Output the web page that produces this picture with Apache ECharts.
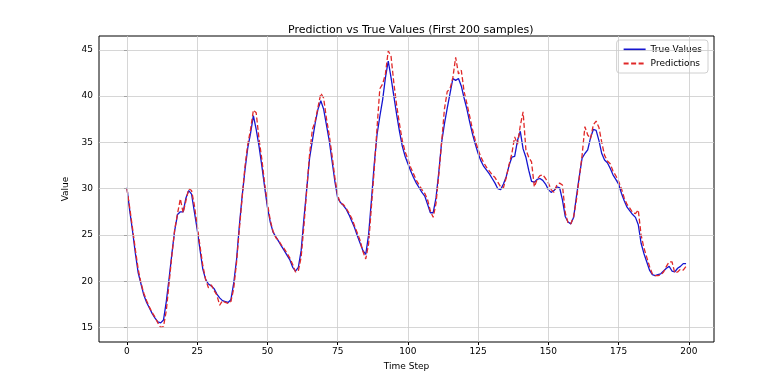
<!DOCTYPE html>
<html>
<head>
<meta charset="utf-8">
<script src="https://cdn.jsdelivr.net/npm/echarts@6/dist/echarts.min.js"></script>
<style>
html,body{margin:0;padding:0;background:#fff;}
#chart{width:784px;height:378px;}
</style>
</head>
<body>
<div id="chart"></div>
<script>
const trueValues = [
30.1,27.6,25.4,23.0,20.9,19.7,18.5,17.7,17.1,16.5,
16.0,15.6,15.5,15.8,17.8,20.3,23.0,25.5,27.2,27.5,
27.5,29.0,29.8,29.4,27.5,25.6,23.4,21.3,20.2,19.7,
19.5,19.2,18.6,18.2,17.9,17.8,17.7,18.0,19.8,22.3,
26.0,29.2,32.0,34.4,36.0,37.9,36.4,34.6,32.5,30.2,
28.0,26.4,25.3,24.8,24.3,23.8,23.3,22.8,22.3,21.5,
21.1,21.5,23.3,26.8,30.0,33.3,35.2,37.1,38.6,39.5,
38.6,36.9,35.2,33.0,30.8,29.0,28.5,28.2,27.8,27.2,
26.5,25.8,24.9,24.1,23.3,22.9,25.0,28.7,32.6,35.8,
37.8,39.6,42.0,43.8,42.0,40.0,38.0,36.2,34.6,33.5,
32.7,31.9,31.2,30.6,30.1,29.6,29.2,28.3,27.4,27.4,
29.0,31.8,35.0,37.0,38.7,40.3,41.9,41.7,41.9,41.1,
39.8,38.6,37.2,35.9,34.8,33.8,33.0,32.4,32.0,31.6,
31.1,30.6,30.0,29.9,30.5,31.3,32.5,33.4,33.5,35.2,
36.2,34.3,33.4,32.0,30.8,30.7,31.0,31.1,30.9,30.5,
29.9,29.6,29.8,30.2,30.1,28.8,27.0,26.4,26.2,26.9,
29.2,31.3,33.3,33.8,34.2,35.5,36.4,36.3,35.2,33.8,
33.1,32.8,32.2,31.5,31.0,30.5,29.5,28.7,28.0,27.6,
27.2,26.9,26.1,24.1,23.0,22.1,21.2,20.7,20.6,20.7,
20.8,21.1,21.4,21.6,21.1,21.0,21.4,21.6,21.9,21.9
];
const predictions = [
30.0,27.9,25.7,23.4,21.3,19.8,18.7,17.9,17.2,16.6,
16.1,15.5,15.0,15.1,16.8,19.8,22.8,25.6,27.3,28.9,
27.4,28.7,30.0,29.8,28.2,26.0,23.8,21.7,20.2,19.3,
19.6,19.0,18.5,17.4,17.9,17.7,17.6,17.8,19.2,22.0,
25.6,29.0,32.4,34.8,36.4,38.5,38.2,35.4,33.2,30.6,
28.4,26.6,25.4,24.7,24.4,23.9,23.5,23.0,22.5,21.8,
21.0,21.1,22.6,26.0,29.9,33.7,36.4,37.3,38.8,40.3,
39.8,37.6,35.8,33.6,31.2,29.3,28.4,28.3,27.9,27.4,
26.8,26.0,25.2,24.4,23.2,22.4,24.0,28.0,32.0,36.5,
40.8,41.3,42.4,44.9,44.3,41.4,39.0,37.0,35.2,34.0,
33.2,32.3,31.6,30.9,30.4,29.9,29.5,28.8,27.6,26.9,
28.4,31.5,35.0,38.6,40.5,40.8,42.0,44.2,42.4,42.8,
40.5,39.2,37.8,36.4,35.2,34.2,33.4,32.8,32.3,31.9,
31.5,31.2,30.7,30.2,30.1,31.2,32.6,33.8,35.6,34.8,
36.8,38.3,34.2,33.4,32.9,30.2,31.0,31.4,31.5,31.1,
30.6,29.9,29.6,30.4,30.6,30.4,27.4,26.3,26.2,27.0,
28.8,31.2,33.6,36.7,35.8,35.4,36.9,37.3,36.6,35.0,
33.6,33.0,32.7,31.9,31.4,30.8,30.0,29.0,28.3,27.9,
27.4,27.3,27.7,25.0,23.6,22.6,21.6,20.8,20.6,20.6,
20.7,21.0,21.6,22.1,22.1,20.9,21.0,21.3,21.2,21.6
];
const xTicks = [0,25,50,75,100,125,150,175,200];
const yTicks = [15,20,25,30,35,40,45];

const chart = echarts.init(document.getElementById('chart'), null, {renderer:'canvas'});
const font = 'DejaVu Sans';
const toPairs = arr => arr.map((v,i)=>[i,v]);
const gridColor = '#cccccc';

chart.setOption({
  animation:false,
  backgroundColor:'#ffffff',
  title:{
    text:'Prediction vs True Values (First 200 samples)',
    left:283, top:20,
    textStyle:{fontFamily:font,fontSize:11,fontWeight:'normal',color:'#000'}
  },
  legend:{
    orient:'vertical', right:76, top:40,
    data:['True Values','Predictions'],
    itemWidth:22, itemHeight:8, itemGap:5,
    padding:[5,6,5,6],
    itemStyle:{color:'rgba(0,0,0,0)',borderWidth:0,opacity:0},
    backgroundColor:'#ffffff', borderColor:'#d0d0d0', borderWidth:1, borderRadius:3,
    textStyle:{fontFamily:font,fontSize:9,color:'#000'}
  },
  grid:{left:99,right:70,top:36,bottom:36,show:true,borderColor:'#000',borderWidth:1,backgroundColor:'transparent'},
  xAxis:{
    type:'value', min:-9.95, max:208.95,
    name:'Time Step', nameLocation:'middle', nameGap:20,
    nameTextStyle:{fontFamily:font,fontSize:9,color:'#000'},
    axisLine:{show:false},
    axisTick:{show:true,length:3,lineStyle:{color:'#000'},customValues:xTicks},
    axisLabel:{fontFamily:font,fontSize:9,color:'#000',margin:5,customValues:xTicks},
    splitLine:{show:false}
  },
  yAxis:{
    type:'value', min:13.43, max:46.5,
    name:'Value', nameLocation:'middle', nameGap:27,
    nameTextStyle:{fontFamily:font,fontSize:9,color:'#000'},
    axisLine:{show:false},
    axisTick:{show:true,length:3,lineStyle:{color:'#000'},customValues:yTicks},
    axisLabel:{fontFamily:font,fontSize:9,color:'#000',margin:6,customValues:yTicks},
    splitLine:{show:false}
  },
  series:[
    {
      name:'grid', type:'line', data:[], z:1, silent:true,
      markLine:{
        silent:true, symbol:['none','none'], label:{show:false},
        lineStyle:{color:gridColor,width:0.8,type:'solid'},
        emphasis:{disabled:true},
        data:[...xTicks.map(v=>({xAxis:v})),...yTicks.map(v=>({yAxis:v}))]
      }
    },
    {
      name:'True Values', type:'line', data:toPairs(trueValues), z:3,
      showSymbol:false, symbol:'none', smooth:false,
      lineStyle:{color:'#1515d0',width:1.3},
      itemStyle:{color:'#1515d0'}
    },
    {
      name:'Predictions', type:'line', data:toPairs(predictions), z:4,
      showSymbol:false, symbol:'none', smooth:false,
      lineStyle:{color:'#e02828',width:1.3,type:[5,2.5]},
      itemStyle:{color:'#e02828'}
    }
  ]
});
</script>
</body>
</html>
